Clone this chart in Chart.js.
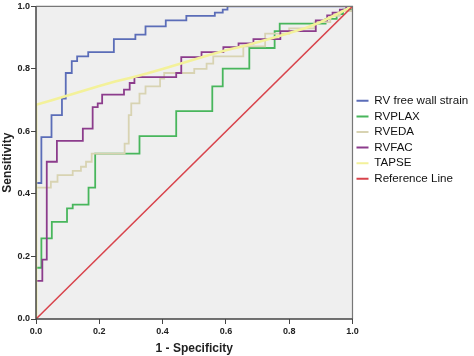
<!DOCTYPE html>
<html><head><meta charset="utf-8">
<script src="https://cdn.jsdelivr.net/npm/chart.js@4.4.0/dist/chart.umd.min.js"></script>
<style>html,body{margin:0;padding:0;background:#fff;}</style>
</head><body>
<canvas id="c" width="474" height="356" style="display:block"></canvas>
<script>
const seriesNames = ['RV free wall strain', 'RVPLAX', 'RVEDA', 'RVFAC', 'TAPSE', 'Reference Line'];
const seriesColors = ['#5b6db8', '#48b65c', '#d8d3b2', '#8c3c8c', '#f3f19a', '#d8434b'];
const xTickLabels = ['0.0', '0.2', '0.4', '0.6', '0.8', '1.0'];
const yTickLabels = ['0.0', '0.2', '0.4', '0.6', '0.8', '1.0'];

const strainFpr = [0, 0, 0.017, 0.049, 0.082, 0.094, 0.113, 0.13, 0.165, 0.246, 0.314, 0.346, 0.41, 0.475, 0.565, 0.59, 0.605, 1];
const strainTpr = [0, 0.435, 0.582, 0.652, 0.705, 0.787, 0.825, 0.84, 0.854, 0.895, 0.91, 0.936, 0.955, 0.97, 0.98, 0.99, 1, 1];

const plaxFpr = [0, 0, 0.017, 0.05, 0.098, 0.116, 0.166, 0.187, 0.327, 0.443, 0.557, 0.59, 0.674, 0.754, 0.77, 0.915, 0.95, 0.97, 1];
const plaxTpr = [0, 0.164, 0.258, 0.311, 0.354, 0.366, 0.42, 0.529, 0.585, 0.665, 0.744, 0.801, 0.867, 0.921, 0.945, 0.96, 0.975, 0.99, 1];

const edaFpr = [0, 0, 0.047, 0.068, 0.116, 0.142, 0.158, 0.176, 0.28, 0.293, 0.301, 0.327, 0.346, 0.392, 0.405, 0.50, 0.539, 0.56, 0.655, 0.724, 0.80, 0.88, 0.93, 0.96, 1];
const edaTpr = [0, 0.42, 0.439, 0.46, 0.474, 0.487, 0.503, 0.529, 0.561, 0.652, 0.69, 0.721, 0.744, 0.769, 0.787, 0.80, 0.817, 0.84, 0.872, 0.913, 0.93, 0.95, 0.97, 0.985, 1];

const facFpr = [0, 0, 0.02, 0.034, 0.066, 0.148, 0.179, 0.195, 0.209, 0.278, 0.296, 0.311, 0.443, 0.459, 0.523, 0.592, 0.64, 0.687, 0.772, 0.884, 0.92, 0.937, 0.96, 0.98, 1];
const facTpr = [0, 0.122, 0.19, 0.503, 0.57, 0.609, 0.678, 0.69, 0.718, 0.734, 0.755, 0.774, 0.787, 0.838, 0.854, 0.87, 0.882, 0.895, 0.921, 0.955, 0.971, 0.98, 0.99, 1, 1];

const tapseFpr = [0, 0, 0.05, 0.1, 0.15, 0.2, 0.25, 0.3, 0.35, 0.4, 0.45, 0.5, 0.55, 0.6, 0.65, 0.7, 0.75, 0.8, 0.85, 0.9, 0.95, 1];
const tapseTpr = [0, 0.685, 0.70, 0.715, 0.73, 0.745, 0.76, 0.772, 0.785, 0.80, 0.815, 0.83, 0.845, 0.86, 0.872, 0.885, 0.9, 0.915, 0.93, 0.95, 0.975, 1];

const refFpr = [0, 1];
const refTpr = [0, 1];

function pts(xs, ys) { return xs.map((x, i) => ({ x: x, y: ys[i] })); }

const seriesData = [
  pts(strainFpr, strainTpr),
  pts(plaxFpr, plaxTpr),
  pts(edaFpr, edaTpr),
  pts(facFpr, facTpr),
  pts(tapseFpr, tapseTpr),
  pts(refFpr, refTpr)
];
const stepped = [true, true, true, true, false, false];
const widths = [1.8, 1.8, 1.8, 1.8, 2.6, 1.5];

const datasets = seriesNames.map((name, i) => ({
  label: name,
  data: seriesData[i],
  borderColor: seriesColors[i],
  backgroundColor: seriesColors[i],
  borderWidth: widths[i],
  pointRadius: 0,
  pointHoverRadius: 0,
  stepped: stepped[i] ? 'before' : false,
  tension: 0,
  fill: false,
  order: seriesNames.length - i
}));

const plotBg = {
  id: 'plotBg',
  beforeDraw(chart) {
    const a = chart.chartArea, ctx = chart.ctx;
    ctx.save();
    ctx.fillStyle = '#efefef';
    ctx.fillRect(a.left, a.top, a.right - a.left, a.bottom - a.top);
    ctx.restore();
  },
  afterDatasetsDraw(chart) {
    const a = chart.chartArea, ctx = chart.ctx;
    ctx.save();
    ctx.strokeStyle = '#777';
    ctx.lineWidth = 1.2;
    ctx.beginPath();
    ctx.moveTo(a.left, a.top); ctx.lineTo(a.right, a.top); ctx.lineTo(a.right, a.bottom);
    ctx.stroke();
    ctx.strokeStyle = '#444';
    ctx.lineWidth = 1.5;
    ctx.beginPath();
    ctx.moveTo(a.left, a.top); ctx.lineTo(a.left, a.bottom); ctx.lineTo(a.right, a.bottom);
    ctx.stroke();
    ctx.restore();
  }
};

const tickFont = { family: 'Liberation Sans, Arial, sans-serif', size: 9, weight: 'bold' };
const titleFont = { family: 'Liberation Sans, Arial, sans-serif', size: 12, weight: 'bold' };

new Chart(document.getElementById('c'), {
  type: 'line',
  data: { datasets: datasets },
  plugins: [plotBg],
  options: {
    responsive: false,
    animation: false,
    events: [],
    layout: { padding: { top: 6, left: 0, right: 4, bottom: 0 } },
    scales: {
      x: {
        type: 'linear', min: 0, max: 1,
        afterFit(s) { s.height = 37; },
        ticks: { stepSize: 0.2, padding: 2, color: '#222', font: tickFont, maxRotation: 0,
          callback: (v, i) => xTickLabels[i] },
        grid: { drawOnChartArea: false, drawTicks: true, tickLength: 5, color: '#444' },
        border: { display: false },
        title: { display: true, text: '1 - Specificity', color: '#222', font: titleFont, padding: { top: 0, bottom: 0 } }
      },
      y: {
        type: 'linear', min: 0, max: 1,
        afterFit(s) { s.width = 36; },
        ticks: { stepSize: 0.2, padding: 1, color: '#222', font: tickFont,
          callback: (v, i) => yTickLabels[i] },
        grid: { drawOnChartArea: false, drawTicks: true, tickLength: 5, color: '#444' },
        border: { display: false },
        title: { display: true, text: 'Sensitivity', color: '#222', font: titleFont, padding: { top: 0, bottom: 0 } }
      }
    },
    plugins: {
      tooltip: { enabled: false },
      legend: {
        position: 'right',
        align: 'start',
        title: { display: true, text: ' ', font: { size: 10 }, padding: { top: 73, bottom: 0 } },
        labels: {
          boxWidth: 12, boxHeight: 2, padding: 4, color: '#111',
          font: { family: 'Liberation Sans, Arial, sans-serif', size: 11.6 },
          generateLabels(chart) {
            const items = Chart.defaults.plugins.legend.labels.generateLabels(chart);
            items.forEach(it => { it.lineWidth = 0; });
            items.sort((a, b) => a.datasetIndex - b.datasetIndex);
            return items;
          }
        }
      }
    }
  }
});
</script>
</body></html>
